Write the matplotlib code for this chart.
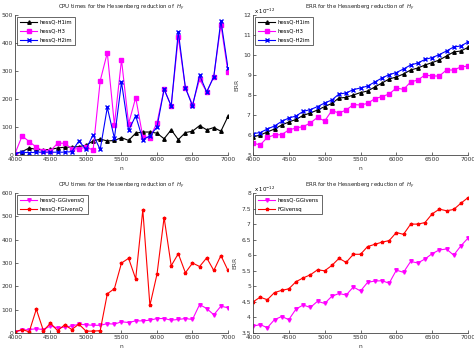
import matplotlib
matplotlib.use('Agg')
import matplotlib.pyplot as plt
import numpy as np

n = list(range(4000, 7001, 100))

# CPU times, top left
cpu_h1im = [5, 12, 25, 20, 18, 20, 25, 28, 28, 30, 35, 50, 57, 50, 52, 62, 52, 78, 82, 82,
            78, 58, 90, 55, 80, 85, 105, 90, 98, 85, 138]
cpu_h3 = [5, 68, 48, 28, 15, 15, 42, 42, 22, 22, 28, 18, 265, 365, 108, 340, 112, 205, 65, 62,
          115, 235, 175, 420, 240, 180, 270, 225, 280, 465, 295]
cpu_h2im = [5, 10, 8, 10, 10, 10, 10, 10, 12, 50, 20, 72, 20, 170, 60, 260, 88, 140, 55, 68,
            100, 235, 175, 440, 240, 175, 285, 225, 280, 480, 310]

# ERR (x 1e-12), top right
err_h2im = [6.07, 6.12, 6.3, 6.45, 6.68, 6.85, 6.95, 7.18, 7.27, 7.42, 7.6, 7.75, 8.05, 8.1,
            8.27, 8.35, 8.45, 8.65, 8.85, 9.02, 9.12, 9.3, 9.5, 9.6, 9.78, 9.87, 10.02, 10.2,
            10.4, 10.45, 10.65]
err_h1im = [5.9, 6.0, 6.15, 6.3, 6.5, 6.65, 6.78, 6.98, 7.1, 7.25, 7.42, 7.58, 7.85, 7.88,
            8.0, 8.12, 8.2, 8.4, 8.6, 8.8, 8.9, 9.05, 9.25, 9.35, 9.5, 9.62, 9.75, 9.95,
            10.15, 10.2, 10.38]
err_h3 = [5.6, 5.5, 5.88, 6.0, 6.02, 6.25, 6.35, 6.42, 6.6, 6.88, 6.7, 7.22, 7.1, 7.25, 7.52,
          7.5, 7.58, 7.82, 7.92, 8.05, 8.35, 8.28, 8.65, 8.75, 9.0, 8.95, 8.95, 9.25, 9.25,
          9.4, 9.45]

# CPU times, bottom left
cpu_gg = [5, 12, 15, 18, 15, 30, 22, 25, 30, 38, 35, 33, 33, 40, 38, 48, 45, 52, 52, 55,
          62, 62, 55, 58, 62, 58, 122, 105, 78, 115, 108]
cpu_fg = [5, 15, 5, 102, 10, 42, 10, 35, 15, 38, 8, 8, 10, 168, 190, 300, 320, 232, 528, 118,
          252, 495, 288, 340, 258, 300, 285, 322, 268, 332, 268]

# ERR (x 1e-12), bottom right
err_gg = [3.72, 3.77, 3.67, 3.93, 4.03, 3.93, 4.27, 4.4, 4.32, 4.52, 4.45, 4.68, 4.77, 4.72,
          4.98, 4.85, 5.13, 5.17, 5.18, 5.1, 5.52, 5.45, 5.8, 5.75, 5.88, 6.05, 6.17, 6.2,
          6.0, 6.3, 6.55]
err_fg = [4.5, 4.65, 4.57, 4.8, 4.87, 4.92, 5.15, 5.27, 5.37, 5.53, 5.5, 5.67, 5.9, 5.77,
          6.03, 6.03, 6.28, 6.35, 6.42, 6.47, 6.73, 6.67, 7.0, 7.0, 7.05, 7.33, 7.48, 7.43,
          7.47, 7.67, 7.85]

plt.rcParams['font.size'] = 4.3
W, H = 474., 352.
fig = plt.figure(figsize=(W / 100, H / 100), dpi=100)

def make_ax(l, r, t, b):
    ax = fig.add_axes([l / W, 1 - b / H, (r - l) / W, (b - t) / H])
    ax.spines['top'].set_visible(False)
    ax.spines['right'].set_visible(False)
    for s in ['left', 'bottom']:
        ax.spines[s].set_linewidth(0.6)
        ax.spines[s].set_color('#444444')
    ax.tick_params(direction='in', length=2.5, width=0.5, labelsize=4.3, pad=1.5,
                   colors='#333333')
    ax.set_xlim(4000, 7000)
    ax.set_xticks(range(4000, 7001, 500))
    ax.set_xlabel('n', labelpad=3, fontsize=4.3, color='#333333')
    return ax

title = 'CPU times for the Hessenberg reduction of  $H_y$'
etitle = 'ERR for the Hessenberg reduction of  $H_y$'
ms = 2.5
lw = 0.8

ax1 = make_ax(15, 228, 15, 155)
ax1.plot(n, cpu_h1im, color='black', marker='^', ms=ms, lw=lw, label='hessQ-H1im')
ax1.plot(n, cpu_h3, color='magenta', marker='s', ms=ms, lw=lw, label='hessQ-H3')
ax1.plot(n, cpu_h2im, color='blue', marker='x', ms=ms, lw=lw, label='hessQ-H2im')
ax1.set_ylim(0, 500)
ax1.set_ylabel('CPU time(second)', labelpad=1, fontsize=4.3, color='#444444')
ax1.set_title(title, fontsize=3.9, pad=4, color='#222222')

ax2 = make_ax(253, 468, 15, 155)
ax2.plot(n, err_h1im, color='black', marker='^', ms=ms, lw=lw, label='hessQ-H1im')
ax2.plot(n, err_h3, color='magenta', marker='s', ms=ms, lw=lw, label='hessQ-H3')
ax2.plot(n, err_h2im, color='blue', marker='x', ms=ms, lw=lw, label='hessQ-H2im')
ax2.set_ylim(5, 12)
ax2.set_ylabel('ERR', labelpad=3, fontsize=4.3, color='#444444')
ax2.set_title(etitle, fontsize=3.9, pad=4, color='#222222')
ax2.text(0.005, 1.01, r'x 10$^{-12}$', transform=ax2.transAxes, fontsize=3.9)

ax3 = make_ax(15, 228, 193, 333)
ax3.plot(n, cpu_gg, color='magenta', marker='v', ms=ms, lw=lw, label='hessQ-GGivensQ')
ax3.plot(n, cpu_fg, color='red', marker='*', ms=ms, lw=lw, label='hessQ-FGivensQ')
ax3.set_ylim(0, 600)
ax3.set_ylabel('CPU time(second)', labelpad=1, fontsize=4.3, color='#444444')
ax3.set_title(title, fontsize=3.9, pad=4, color='#222222')

ax4 = make_ax(253, 468, 193, 333)
ax4.plot(n, err_gg, color='magenta', marker='v', ms=ms, lw=lw, label='hessQ-GGivens')
ax4.plot(n, err_fg, color='red', marker='*', ms=ms, lw=lw, label='FGivensq')
ax4.set_ylim(3.5, 8)
ax4.set_yticks(np.arange(3.5, 8.01, 0.5))
ax4.set_yticklabels(['3.5', '4', '4.5', '5', '5.5', '6', '6.5', '7', '7.5', '8'])
ax4.set_ylabel('ERR', labelpad=3, fontsize=4.3, color='#444444')
ax4.set_title(etitle, fontsize=3.9, pad=4, color='#222222')
ax4.text(0.005, 1.01, r'x 10$^{-12}$', transform=ax4.transAxes, fontsize=3.9)

for ax in [ax1, ax2, ax3, ax4]:
    leg = ax.legend(loc='upper left', fontsize=3.9, frameon=True, fancybox=False,
                    borderpad=0.5, handlelength=3.2, handletextpad=0.5,
                    labelspacing=0.7, borderaxespad=0.4)
    leg.get_frame().set_edgecolor('#222222')
    leg.get_frame().set_linewidth(0.6)

plt.savefig('out.png', dpi=100)
